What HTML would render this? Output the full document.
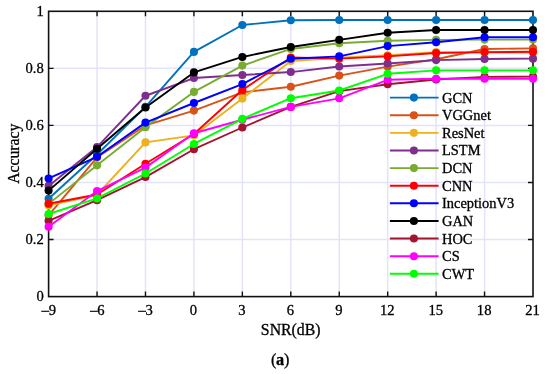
<!DOCTYPE html>
<html><head><meta charset="utf-8"><title>Accuracy vs SNR</title>
<style>
html,body{margin:0;padding:0;background:#fff;}
body{width:550px;height:374px;overflow:hidden;}
svg{display:block;}
text{font-family:"Liberation Serif","Times New Roman",serif;fill:#000;stroke:#000;stroke-width:0.3px;}
</style></head><body>
<svg width="550" height="374" viewBox="0 0 550 374">
<rect x="0" y="0" width="550" height="374" fill="#ffffff"/>
<path d="M97.04 11.30V296.60M145.48 11.30V296.60M193.92 11.30V296.60M242.36 11.30V296.60M290.80 11.30V296.60M339.24 11.30V296.60M387.68 11.30V296.60M436.12 11.30V296.60M484.56 11.30V296.60M48.60 239.54H533.00M48.60 182.48H533.00M48.60 125.42H533.00M48.60 68.36H533.00" stroke="#e3e3fb" stroke-width="1.5" fill="none"/>
<path d="M97.04 296.60v-5M97.04 11.30v5M145.48 296.60v-5M145.48 11.30v5M193.92 296.60v-5M193.92 11.30v5M242.36 296.60v-5M242.36 11.30v5M290.80 296.60v-5M290.80 11.30v5M339.24 296.60v-5M339.24 11.30v5M387.68 296.60v-5M387.68 11.30v5M436.12 296.60v-5M436.12 11.30v5M484.56 296.60v-5M484.56 11.30v5M48.60 239.54h5M533.00 239.54h-5M48.60 182.48h5M533.00 182.48h-5M48.60 125.42h5M533.00 125.42h-5M48.60 68.36h5M533.00 68.36h-5" stroke="#111" stroke-width="1.4" fill="none"/>
<rect x="48.6" y="11.3" width="484.40" height="285.30" fill="none" stroke="#111" stroke-width="1.6"/>
<g stroke="#0072BD" fill="#0072BD"><polyline points="48.60,198.74 97.04,154.52 145.48,106.88 193.92,51.90 242.36,24.99 290.80,20.29 339.24,20.00 387.68,20.00 436.12,20.00 484.56,20.00 533.00,20.00" fill="none" stroke-width="1.9" stroke-linejoin="round"/>
<circle cx="48.60" cy="198.74" r="4.05" stroke="none"/><circle cx="97.04" cy="154.52" r="4.05" stroke="none"/><circle cx="145.48" cy="106.88" r="4.05" stroke="none"/><circle cx="193.92" cy="51.90" r="4.05" stroke="none"/><circle cx="242.36" cy="24.99" r="4.05" stroke="none"/><circle cx="290.80" cy="20.29" r="4.05" stroke="none"/><circle cx="339.24" cy="20.00" r="4.05" stroke="none"/><circle cx="387.68" cy="20.00" r="4.05" stroke="none"/><circle cx="436.12" cy="20.00" r="4.05" stroke="none"/><circle cx="484.56" cy="20.00" r="4.05" stroke="none"/><circle cx="533.00" cy="20.00" r="4.05" stroke="none"/></g>
<g stroke="#D95319" fill="#D95319"><polyline points="48.60,215.29 97.04,157.37 145.48,125.42 193.92,110.58 242.36,92.33 290.80,86.70 339.24,75.61 387.68,66.65 436.12,59.23 484.56,48.96 533.00,48.39" fill="none" stroke-width="1.9" stroke-linejoin="round"/>
<circle cx="48.60" cy="215.29" r="4.05" stroke="none"/><circle cx="97.04" cy="157.37" r="4.05" stroke="none"/><circle cx="145.48" cy="125.42" r="4.05" stroke="none"/><circle cx="193.92" cy="110.58" r="4.05" stroke="none"/><circle cx="242.36" cy="92.33" r="4.05" stroke="none"/><circle cx="290.80" cy="86.70" r="4.05" stroke="none"/><circle cx="339.24" cy="75.61" r="4.05" stroke="none"/><circle cx="387.68" cy="66.65" r="4.05" stroke="none"/><circle cx="436.12" cy="59.23" r="4.05" stroke="none"/><circle cx="484.56" cy="48.96" r="4.05" stroke="none"/><circle cx="533.00" cy="48.39" r="4.05" stroke="none"/></g>
<g stroke="#EDB120" fill="#EDB120"><polyline points="48.60,205.59 97.04,194.75 145.48,142.40 193.92,135.41 242.36,98.60 290.80,60.94 339.24,57.80 387.68,55.24 436.12,52.10 484.56,52.67 533.00,52.67" fill="none" stroke-width="1.9" stroke-linejoin="round"/>
<circle cx="48.60" cy="205.59" r="4.05" stroke="none"/><circle cx="97.04" cy="194.75" r="4.05" stroke="none"/><circle cx="145.48" cy="142.40" r="4.05" stroke="none"/><circle cx="193.92" cy="135.41" r="4.05" stroke="none"/><circle cx="242.36" cy="98.60" r="4.05" stroke="none"/><circle cx="290.80" cy="60.94" r="4.05" stroke="none"/><circle cx="339.24" cy="57.80" r="4.05" stroke="none"/><circle cx="387.68" cy="55.24" r="4.05" stroke="none"/><circle cx="436.12" cy="52.10" r="4.05" stroke="none"/><circle cx="484.56" cy="52.67" r="4.05" stroke="none"/><circle cx="533.00" cy="52.67" r="4.05" stroke="none"/></g>
<g stroke="#7E2F8E" fill="#7E2F8E"><polyline points="48.60,185.90 97.04,147.10 145.48,95.75 193.92,78.06 242.36,75.01 290.80,72.07 339.24,66.51 387.68,63.51 436.12,60.09 484.56,58.95 533.00,58.66" fill="none" stroke-width="1.9" stroke-linejoin="round"/>
<circle cx="48.60" cy="185.90" r="4.05" stroke="none"/><circle cx="97.04" cy="147.10" r="4.05" stroke="none"/><circle cx="145.48" cy="95.75" r="4.05" stroke="none"/><circle cx="193.92" cy="78.06" r="4.05" stroke="none"/><circle cx="242.36" cy="75.01" r="4.05" stroke="none"/><circle cx="290.80" cy="72.07" r="4.05" stroke="none"/><circle cx="339.24" cy="66.51" r="4.05" stroke="none"/><circle cx="387.68" cy="63.51" r="4.05" stroke="none"/><circle cx="436.12" cy="60.09" r="4.05" stroke="none"/><circle cx="484.56" cy="58.95" r="4.05" stroke="none"/><circle cx="533.00" cy="58.66" r="4.05" stroke="none"/></g>
<g stroke="#77AC30" fill="#77AC30"><polyline points="48.60,203.88 97.04,165.36 145.48,127.13 193.92,91.90 242.36,65.59 290.80,48.96 339.24,43.25 387.68,40.80 436.12,39.83 484.56,39.60 533.00,39.60" fill="none" stroke-width="1.9" stroke-linejoin="round"/>
<circle cx="48.60" cy="203.88" r="4.05" stroke="none"/><circle cx="97.04" cy="165.36" r="4.05" stroke="none"/><circle cx="145.48" cy="127.13" r="4.05" stroke="none"/><circle cx="193.92" cy="91.90" r="4.05" stroke="none"/><circle cx="242.36" cy="65.59" r="4.05" stroke="none"/><circle cx="290.80" cy="48.96" r="4.05" stroke="none"/><circle cx="339.24" cy="43.25" r="4.05" stroke="none"/><circle cx="387.68" cy="40.80" r="4.05" stroke="none"/><circle cx="436.12" cy="39.83" r="4.05" stroke="none"/><circle cx="484.56" cy="39.60" r="4.05" stroke="none"/><circle cx="533.00" cy="39.60" r="4.05" stroke="none"/></g>
<g stroke="#FF0000" fill="#FF0000"><polyline points="48.60,203.71 97.04,194.46 145.48,163.79 193.92,133.98 242.36,90.04 290.80,57.52 339.24,58.66 387.68,56.38 436.12,52.95 484.56,52.10 533.00,51.81" fill="none" stroke-width="1.9" stroke-linejoin="round"/>
<circle cx="48.60" cy="203.71" r="4.05" stroke="none"/><circle cx="97.04" cy="194.46" r="4.05" stroke="none"/><circle cx="145.48" cy="163.79" r="4.05" stroke="none"/><circle cx="193.92" cy="133.98" r="4.05" stroke="none"/><circle cx="242.36" cy="90.04" r="4.05" stroke="none"/><circle cx="290.80" cy="57.52" r="4.05" stroke="none"/><circle cx="339.24" cy="58.66" r="4.05" stroke="none"/><circle cx="387.68" cy="56.38" r="4.05" stroke="none"/><circle cx="436.12" cy="52.95" r="4.05" stroke="none"/><circle cx="484.56" cy="52.10" r="4.05" stroke="none"/><circle cx="533.00" cy="51.81" r="4.05" stroke="none"/></g>
<g stroke="#0000FF" fill="#0000FF"><polyline points="48.60,178.49 97.04,156.80 145.48,122.60 193.92,103.00 242.36,84.05 290.80,58.80 339.24,56.38 387.68,46.11 436.12,42.26 484.56,37.32 533.00,37.26" fill="none" stroke-width="1.9" stroke-linejoin="round"/>
<circle cx="48.60" cy="178.49" r="4.05" stroke="none"/><circle cx="97.04" cy="156.80" r="4.05" stroke="none"/><circle cx="145.48" cy="122.60" r="4.05" stroke="none"/><circle cx="193.92" cy="103.00" r="4.05" stroke="none"/><circle cx="242.36" cy="84.05" r="4.05" stroke="none"/><circle cx="290.80" cy="58.80" r="4.05" stroke="none"/><circle cx="339.24" cy="56.38" r="4.05" stroke="none"/><circle cx="387.68" cy="46.11" r="4.05" stroke="none"/><circle cx="436.12" cy="42.26" r="4.05" stroke="none"/><circle cx="484.56" cy="37.32" r="4.05" stroke="none"/><circle cx="533.00" cy="37.26" r="4.05" stroke="none"/></g>
<g stroke="#000000" fill="#000000"><polyline points="48.60,190.61 97.04,148.81 145.48,107.45 193.92,72.41 242.36,56.95 290.80,46.96 339.24,39.83 387.68,32.81 436.12,29.99 484.56,29.99 533.00,29.99" fill="none" stroke-width="1.9" stroke-linejoin="round"/>
<circle cx="48.60" cy="190.61" r="4.05" stroke="none"/><circle cx="97.04" cy="148.81" r="4.05" stroke="none"/><circle cx="145.48" cy="107.45" r="4.05" stroke="none"/><circle cx="193.92" cy="72.41" r="4.05" stroke="none"/><circle cx="242.36" cy="56.95" r="4.05" stroke="none"/><circle cx="290.80" cy="46.96" r="4.05" stroke="none"/><circle cx="339.24" cy="39.83" r="4.05" stroke="none"/><circle cx="387.68" cy="32.81" r="4.05" stroke="none"/><circle cx="436.12" cy="29.99" r="4.05" stroke="none"/><circle cx="484.56" cy="29.99" r="4.05" stroke="none"/><circle cx="533.00" cy="29.99" r="4.05" stroke="none"/></g>
<g stroke="#A2142F" fill="#A2142F"><polyline points="48.60,220.80 97.04,200.17 145.48,177.06 193.92,149.21 242.36,127.50 290.80,106.88 339.24,91.18 387.68,84.19 436.12,79.49 484.56,76.92 533.00,76.63" fill="none" stroke-width="1.9" stroke-linejoin="round"/>
<circle cx="48.60" cy="220.80" r="4.05" stroke="none"/><circle cx="97.04" cy="200.17" r="4.05" stroke="none"/><circle cx="145.48" cy="177.06" r="4.05" stroke="none"/><circle cx="193.92" cy="149.21" r="4.05" stroke="none"/><circle cx="242.36" cy="127.50" r="4.05" stroke="none"/><circle cx="290.80" cy="106.88" r="4.05" stroke="none"/><circle cx="339.24" cy="91.18" r="4.05" stroke="none"/><circle cx="387.68" cy="84.19" r="4.05" stroke="none"/><circle cx="436.12" cy="79.49" r="4.05" stroke="none"/><circle cx="484.56" cy="76.92" r="4.05" stroke="none"/><circle cx="533.00" cy="76.63" r="4.05" stroke="none"/></g>
<g stroke="#FF00FF" fill="#FF00FF"><polyline points="48.60,226.79 97.04,191.04 145.48,167.64 193.92,133.21 242.36,119.71 290.80,106.88 339.24,98.32 387.68,79.77 436.12,78.72 484.56,78.72 533.00,78.72" fill="none" stroke-width="1.9" stroke-linejoin="round"/>
<circle cx="48.60" cy="226.79" r="4.05" stroke="none"/><circle cx="97.04" cy="191.04" r="4.05" stroke="none"/><circle cx="145.48" cy="167.64" r="4.05" stroke="none"/><circle cx="193.92" cy="133.21" r="4.05" stroke="none"/><circle cx="242.36" cy="119.71" r="4.05" stroke="none"/><circle cx="290.80" cy="106.88" r="4.05" stroke="none"/><circle cx="339.24" cy="98.32" r="4.05" stroke="none"/><circle cx="387.68" cy="79.77" r="4.05" stroke="none"/><circle cx="436.12" cy="78.72" r="4.05" stroke="none"/><circle cx="484.56" cy="78.72" r="4.05" stroke="none"/><circle cx="533.00" cy="78.72" r="4.05" stroke="none"/></g>
<g stroke="#00FF00" fill="#00FF00"><polyline points="48.60,214.01 97.04,198.46 145.48,173.49 193.92,143.96 242.36,118.86 290.80,98.20 339.24,90.50 387.68,73.78 436.12,70.36 484.56,70.36 533.00,70.36" fill="none" stroke-width="1.9" stroke-linejoin="round"/>
<circle cx="48.60" cy="214.01" r="4.05" stroke="none"/><circle cx="97.04" cy="198.46" r="4.05" stroke="none"/><circle cx="145.48" cy="173.49" r="4.05" stroke="none"/><circle cx="193.92" cy="143.96" r="4.05" stroke="none"/><circle cx="242.36" cy="118.86" r="4.05" stroke="none"/><circle cx="290.80" cy="98.20" r="4.05" stroke="none"/><circle cx="339.24" cy="90.50" r="4.05" stroke="none"/><circle cx="387.68" cy="73.78" r="4.05" stroke="none"/><circle cx="436.12" cy="70.36" r="4.05" stroke="none"/><circle cx="484.56" cy="70.36" r="4.05" stroke="none"/><circle cx="533.00" cy="70.36" r="4.05" stroke="none"/></g>
<g stroke="#0072BD" fill="#0072BD"><path d="M389.9 97.60H438.6" stroke-width="1.9"/><circle cx="413.9" cy="97.60" r="4.05" stroke="none"/></g>
<text x="442.0" y="102.60" font-size="14.45">GCN</text>
<g stroke="#D95319" fill="#D95319"><path d="M389.9 115.22H438.6" stroke-width="1.9"/><circle cx="413.9" cy="115.22" r="4.05" stroke="none"/></g>
<text x="442.0" y="120.22" font-size="14.45">VGGnet</text>
<g stroke="#EDB120" fill="#EDB120"><path d="M389.9 132.84H438.6" stroke-width="1.9"/><circle cx="413.9" cy="132.84" r="4.05" stroke="none"/></g>
<text x="442.0" y="137.84" font-size="14.45">ResNet</text>
<g stroke="#7E2F8E" fill="#7E2F8E"><path d="M389.9 150.46H438.6" stroke-width="1.9"/><circle cx="413.9" cy="150.46" r="4.05" stroke="none"/></g>
<text x="442.0" y="155.46" font-size="14.45">LSTM</text>
<g stroke="#77AC30" fill="#77AC30"><path d="M389.9 168.08H438.6" stroke-width="1.9"/><circle cx="413.9" cy="168.08" r="4.05" stroke="none"/></g>
<text x="442.0" y="173.08" font-size="14.45">DCN</text>
<g stroke="#FF0000" fill="#FF0000"><path d="M389.9 185.70H438.6" stroke-width="1.9"/><circle cx="413.9" cy="185.70" r="4.05" stroke="none"/></g>
<text x="442.0" y="190.70" font-size="14.45">CNN</text>
<g stroke="#0000FF" fill="#0000FF"><path d="M389.9 203.32H438.6" stroke-width="1.9"/><circle cx="413.9" cy="203.32" r="4.05" stroke="none"/></g>
<text x="442.0" y="208.32" font-size="14.45">InceptionV3</text>
<g stroke="#000000" fill="#000000"><path d="M389.9 220.94H438.6" stroke-width="1.9"/><circle cx="413.9" cy="220.94" r="4.05" stroke="none"/></g>
<text x="442.0" y="225.94" font-size="14.45">GAN</text>
<g stroke="#A2142F" fill="#A2142F"><path d="M389.9 238.56H438.6" stroke-width="1.9"/><circle cx="413.9" cy="238.56" r="4.05" stroke="none"/></g>
<text x="442.0" y="243.56" font-size="14.45">HOC</text>
<g stroke="#FF00FF" fill="#FF00FF"><path d="M389.9 256.18H438.6" stroke-width="1.9"/><circle cx="413.9" cy="256.18" r="4.05" stroke="none"/></g>
<text x="442.0" y="261.18" font-size="14.45">CS</text>
<g stroke="#00FF00" fill="#00FF00"><path d="M389.9 273.80H438.6" stroke-width="1.9"/><circle cx="413.9" cy="273.80" r="4.05" stroke="none"/></g>
<text x="442.0" y="278.80" font-size="14.45">CWT</text>
<text x="43.8" y="301.30" font-size="14.6" text-anchor="end">0</text>
<text x="43.8" y="244.24" font-size="14.6" text-anchor="end">0.2</text>
<text x="43.8" y="187.18" font-size="14.6" text-anchor="end">0.4</text>
<text x="43.8" y="130.12" font-size="14.6" text-anchor="end">0.6</text>
<text x="43.8" y="73.06" font-size="14.6" text-anchor="end">0.8</text>
<text x="43.8" y="16.00" font-size="14.6" text-anchor="end">1</text>
<text x="40.50" y="316.1" font-size="14.6" textLength="9.2" lengthAdjust="spacingAndGlyphs" stroke="#111" stroke-width="0.35">−</text><text x="48.70" y="315.4" font-size="14.6">9</text>
<text x="88.94" y="316.1" font-size="14.6" textLength="9.2" lengthAdjust="spacingAndGlyphs" stroke="#111" stroke-width="0.35">−</text><text x="97.14" y="315.4" font-size="14.6">6</text>
<text x="137.38" y="316.1" font-size="14.6" textLength="9.2" lengthAdjust="spacingAndGlyphs" stroke="#111" stroke-width="0.35">−</text><text x="145.58" y="315.4" font-size="14.6">3</text>
<text x="193.52" y="315.4" font-size="14.6" text-anchor="middle">0</text>
<text x="241.96" y="315.4" font-size="14.6" text-anchor="middle">3</text>
<text x="290.40" y="315.4" font-size="14.6" text-anchor="middle">6</text>
<text x="338.84" y="315.4" font-size="14.6" text-anchor="middle">9</text>
<text x="387.28" y="315.4" font-size="14.6" text-anchor="middle">12</text>
<text x="435.72" y="315.4" font-size="14.6" text-anchor="middle">15</text>
<text x="484.16" y="315.4" font-size="14.6" text-anchor="middle">18</text>
<text x="532.60" y="315.4" font-size="14.6" text-anchor="middle">21</text>
<text x="290.7" y="334.9" font-size="15.8" text-anchor="middle">SNR(dB)</text>
<text transform="translate(18.7 153.7) rotate(-90)" font-size="15.75" text-anchor="middle">Accuracy</text>
<text x="280.0" y="365.1" font-size="16.3" letter-spacing="-0.35" text-anchor="middle">(<tspan font-weight="bold">a</tspan>)</text>
</svg></body></html>
